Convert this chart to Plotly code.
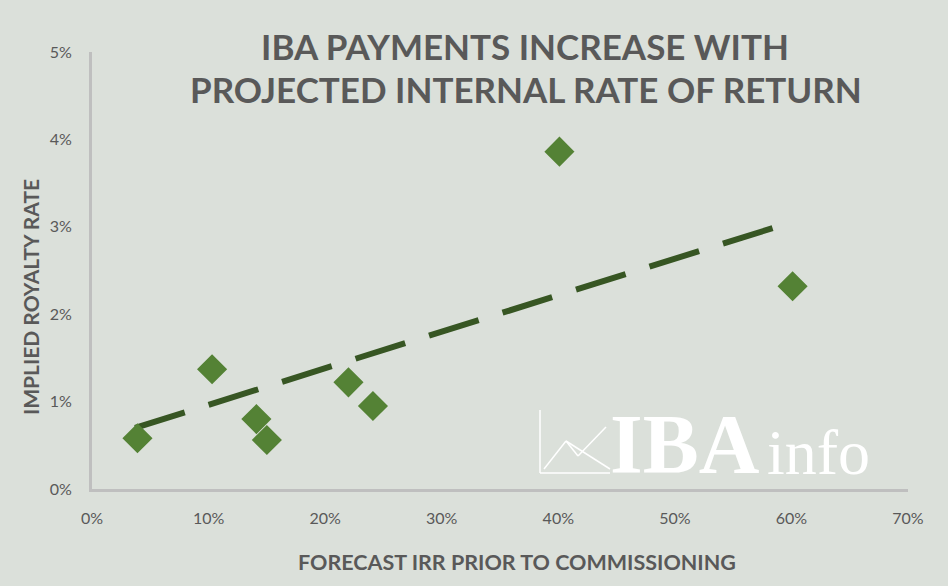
import plotly.graph_objects as go

# Data
irr = [0.039, 0.103, 0.141, 0.150, 0.220, 0.241, 0.401, 0.601]
royalty = [0.0058, 0.0137, 0.0080, 0.0056, 0.0122, 0.0095, 0.0386, 0.0232]
trend_x = [0.037, 0.585]
trend_y = [0.0070, 0.0299]

x_ticks = [0, 0.1, 0.2, 0.3, 0.4, 0.5, 0.6, 0.7]
x_tick_labels = ["0%", "10%", "20%", "30%", "40%", "50%", "60%", "70%"]
y_ticks = [0, 0.01, 0.02, 0.03, 0.04, 0.05]
y_tick_labels = ["0%", "1%", "2%", "3%", "4%", "5%"]

title_lines = ["IBA PAYMENTS INCREASE WITH", "PROJECTED INTERNAL RATE OF RETURN"]

BG = "#dbe0da"
GREY = "#595959"
FONT = "Lato"

fig = go.Figure()
fig.add_trace(go.Scatter(
    x=trend_x, y=trend_y, mode="lines",
    line=dict(color="#375623", width=6, dash="52px,25px"),
    hoverinfo="skip", showlegend=False,
))
fig.add_trace(go.Scatter(
    x=irr, y=royalty, mode="markers",
    marker=dict(symbol="diamond", size=21, color="#548235",
                line=dict(color="#548235", width=2)),
    showlegend=False,
))

W, H = 948, 586
L, R, T, B = 92, 40, 52, 97

fig.update_layout(
    width=W, height=H,
    paper_bgcolor=BG, plot_bgcolor=BG,
    margin=dict(l=L, r=R, t=T, b=B),
    font=dict(family=FONT, color=GREY),
    xaxis=dict(
        range=[0, 0.7], tickvals=x_ticks, ticktext=x_tick_labels,
        showgrid=False, zeroline=False, showline=True,
        linecolor="#bfbfbf", linewidth=3, ticks="",
        tickfont=dict(family=FONT, size=16, color=GREY), ticklabelstandoff=13,
    ),
    yaxis=dict(
        range=[0, 0.05], tickvals=y_ticks, ticktext=y_tick_labels,
        showgrid=False, zeroline=False, showline=True,
        linecolor="#bfbfbf", linewidth=3, ticks="",
        tickfont=dict(family=FONT, size=16, color=GREY), ticklabelstandoff=14,
    ),
)

pw = W - L - R
ph = H - T - B
def px(xp):
    return (xp - L) / pw
def py(yp):
    return (H - B - yp) / ph

annotations = [
    dict(text="<b>%s</b>" % title_lines[0], x=px(525), y=py(45.5),
         xref="paper", yref="paper", xanchor="center", yanchor="middle",
         showarrow=False, font=dict(family=FONT, size=35, color=GREY)),
    dict(text="<b>%s</b>" % title_lines[1], x=px(526), y=py(88.5),
         xref="paper", yref="paper", xanchor="center", yanchor="middle",
         showarrow=False, font=dict(family=FONT, size=35, color=GREY)),
    dict(text="<b>IMPLIED ROYALTY RATE</b>", textangle=-90,
         x=px(30), y=py(297), xref="paper", yref="paper",
         xanchor="center", yanchor="middle",
         showarrow=False, font=dict(family=FONT, size=21, color=GREY)),
    dict(text="<b>FORECAST IRR PRIOR TO COMMISSIONING</b>",
         x=px(517), y=py(562), xref="paper", yref="paper",
         xanchor="center", yanchor="middle",
         showarrow=False, font=dict(family=FONT, size=21.5, color=GREY)),
    dict(text="<b>IBA</b>", x=px(762), y=py(476), xref="paper", yref="paper",
         xanchor="right", yanchor="bottom", yshift=-17, showarrow=False,
         font=dict(family="Liberation Serif", size=84, color="white")),
    dict(text="info", x=px(765), y=py(476), xref="paper", yref="paper",
         xanchor="left", yanchor="bottom", yshift=-14, showarrow=False,
         font=dict(family="Liberation Serif", size=64, color="white")),
]
fig.update_layout(annotations=annotations)

# watermark icon (decorative)
icon_lines = [
    [(540, 410), (540, 473)],
    [(540, 473), (610, 473)],
    [(544, 469), (566, 441)],
    [(566, 441), (578, 456)],
    [(578, 456), (606, 427)],
    [(566, 441), (610, 469)],
]
shapes = []
for (x0, y0), (x1, y1) in icon_lines:
    shapes.append(dict(type="line", xref="paper", yref="paper",
                       x0=px(x0), y0=py(y0), x1=px(x1), y1=py(y1),
                       line=dict(color="white", width=1.5)))
fig.update_layout(shapes=shapes)

fig.write_html("out.html")
